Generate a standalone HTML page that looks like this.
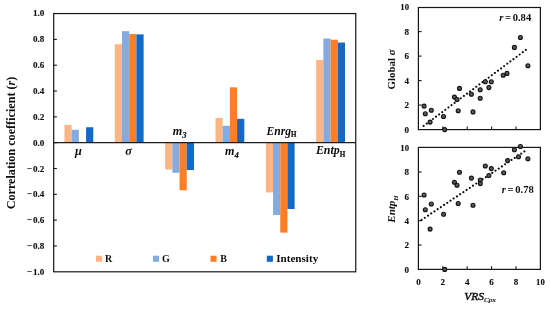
<!DOCTYPE html>
<html lang="en"><head><meta charset="utf-8"><title>Correlation chart</title>
<style>html,body{margin:0;padding:0;background:#fff}svg{display:block}text{font-family:"Liberation Serif",serif;fill:#0c0c0c;stroke:#0c0c0c;stroke-width:0.1px}.b{font-weight:bold}.i{font-style:italic}.n{font-style:normal}.t{stroke-width:0.1px}.c{stroke:none}.v{stroke-width:0.4px}</style></head><body>
<svg width="550" height="309" viewBox="0 0 550 309">
<rect width="550" height="309" fill="#fff"/>
<rect x="64.47" y="124.91" width="7.20" height="17.69" fill="#FDB584"/>
<rect x="71.67" y="129.82" width="7.20" height="12.78" fill="#84ABE0"/>
<rect x="86.07" y="127.23" width="7.20" height="15.37" fill="#1169C8"/>
<rect x="114.81" y="44.21" width="7.20" height="98.39" fill="#FDB584"/>
<rect x="122.01" y="31.17" width="7.20" height="111.43" fill="#84ABE0"/>
<rect x="129.21" y="34.07" width="7.20" height="108.53" fill="#FD7F25"/>
<rect x="136.41" y="34.39" width="7.20" height="108.21" fill="#1169C8"/>
<rect x="165.15" y="142.60" width="7.20" height="26.86" fill="#FDB584"/>
<rect x="172.35" y="142.60" width="7.20" height="30.22" fill="#84ABE0"/>
<rect x="179.55" y="142.60" width="7.20" height="47.65" fill="#FD7F25"/>
<rect x="186.75" y="142.60" width="7.20" height="27.50" fill="#1169C8"/>
<rect x="215.50" y="117.94" width="7.20" height="24.66" fill="#FDB584"/>
<rect x="222.70" y="125.81" width="7.20" height="16.79" fill="#84ABE0"/>
<rect x="229.90" y="87.33" width="7.20" height="55.27" fill="#FD7F25"/>
<rect x="237.10" y="118.84" width="7.20" height="23.76" fill="#1169C8"/>
<rect x="265.84" y="142.60" width="7.20" height="49.84" fill="#FDB584"/>
<rect x="273.04" y="142.60" width="7.20" height="72.44" fill="#84ABE0"/>
<rect x="280.24" y="142.60" width="7.20" height="90.00" fill="#FD7F25"/>
<rect x="287.44" y="142.60" width="7.20" height="66.37" fill="#1169C8"/>
<rect x="316.18" y="59.96" width="7.20" height="82.64" fill="#FDB584"/>
<rect x="323.38" y="38.53" width="7.20" height="104.07" fill="#84ABE0"/>
<rect x="330.58" y="39.69" width="7.20" height="102.91" fill="#FD7F25"/>
<rect x="337.78" y="42.53" width="7.20" height="100.07" fill="#1169C8"/>
<rect x="53.7" y="13.55" width="302.05" height="258.25" fill="none" stroke="#161616" stroke-width="1.2"/>
<line x1="53.7" y1="142.60" x2="355.75" y2="142.60" stroke="#1c1c1c" stroke-width="1.4"/>
<text class="b" transform="translate(44.40,16.35) scale(0.99,1)" font-size="9.2" text-anchor="end">1.0</text>
<line x1="53.7" y1="39.38" x2="56.900000000000006" y2="39.38" stroke="#161616" stroke-width="1.1"/>
<text class="b" transform="translate(44.40,42.21) scale(0.99,1)" font-size="9.2" text-anchor="end">0.8</text>
<line x1="53.7" y1="65.20" x2="56.900000000000006" y2="65.20" stroke="#161616" stroke-width="1.1"/>
<text class="b" transform="translate(44.40,68.07) scale(0.99,1)" font-size="9.2" text-anchor="end">0.6</text>
<line x1="53.7" y1="91.02" x2="56.900000000000006" y2="91.02" stroke="#161616" stroke-width="1.1"/>
<text class="b" transform="translate(44.40,93.93) scale(0.99,1)" font-size="9.2" text-anchor="end">0.4</text>
<line x1="53.7" y1="116.85" x2="56.900000000000006" y2="116.85" stroke="#161616" stroke-width="1.1"/>
<text class="b" transform="translate(44.40,119.79) scale(0.99,1)" font-size="9.2" text-anchor="end">0.2</text>
<line x1="53.7" y1="142.68" x2="56.900000000000006" y2="142.68" stroke="#161616" stroke-width="1.1"/>
<text class="b" transform="translate(44.40,145.65) scale(0.99,1)" font-size="9.2" text-anchor="end">0.0</text>
<line x1="53.7" y1="168.50" x2="56.900000000000006" y2="168.50" stroke="#161616" stroke-width="1.1"/>
<text class="b" transform="translate(44.40,171.51) scale(0.99,1)" font-size="9.2" text-anchor="end"><tspan letter-spacing="1.1">−</tspan>0.2</text>
<line x1="53.7" y1="194.33" x2="56.900000000000006" y2="194.33" stroke="#161616" stroke-width="1.1"/>
<text class="b" transform="translate(44.40,197.37) scale(0.99,1)" font-size="9.2" text-anchor="end"><tspan letter-spacing="1.1">−</tspan>0.4</text>
<line x1="53.7" y1="220.15" x2="56.900000000000006" y2="220.15" stroke="#161616" stroke-width="1.1"/>
<text class="b" transform="translate(44.40,223.23) scale(0.99,1)" font-size="9.2" text-anchor="end"><tspan letter-spacing="1.1">−</tspan>0.6</text>
<line x1="53.7" y1="245.98" x2="56.900000000000006" y2="245.98" stroke="#161616" stroke-width="1.1"/>
<text class="b" transform="translate(44.40,249.09) scale(0.99,1)" font-size="9.2" text-anchor="end"><tspan letter-spacing="1.1">−</tspan>0.8</text>
<text class="b" transform="translate(44.40,274.95) scale(0.99,1)" font-size="9.2" text-anchor="end"><tspan letter-spacing="1.1">−</tspan>1.0</text>
<text class="b c" transform="translate(15.40,143.00) rotate(-90) scale(0.98,1)" font-size="12.4" text-anchor="middle">Correlation coefficient (<tspan class="i">r</tspan>)</text>
<text class="b i c" transform="translate(78.30,155.10) scale(0.96,1)" font-size="12.8" text-anchor="middle">μ</text>
<text class="b i c" transform="translate(128.50,155.00) scale(0.96,1)" font-size="12.8" text-anchor="middle">σ</text>
<text class="b i c" transform="translate(179.70,134.80) scale(1.03,1)" font-size="11.8" text-anchor="middle">m<tspan dy="3.4" font-size="8.4" stroke="#0c0c0c" stroke-width="0.15">3</tspan></text>
<text class="b i c" transform="translate(232.00,154.50) scale(1.03,1)" font-size="11.8" text-anchor="middle">m<tspan dy="3.4" font-size="8.4" stroke="#0c0c0c" stroke-width="0.15">4</tspan></text>
<text class="b i c" transform="translate(281.50,134.50) scale(0.91,1)" font-size="12.8" text-anchor="middle">Enrg<tspan dy="2.6" font-size="7.7" class="n" stroke="#0c0c0c" stroke-width="0.25">H</tspan></text>
<text class="b i c" transform="translate(330.60,154.20) scale(0.93,1)" font-size="12.8" text-anchor="middle">Entp<tspan dy="3.2" font-size="7.7" class="n" stroke="#0c0c0c" stroke-width="0.25">H</tspan></text>
<rect x="96" y="255.7" width="6.1" height="6.1" fill="#FDB584"/>
<text class="b c" transform="translate(105.00,261.80) scale(0.93,1)" font-size="10.8" text-anchor="start">R</text>
<rect x="153" y="255.7" width="6.1" height="6.1" fill="#84ABE0"/>
<text class="b c" transform="translate(162.00,261.80) scale(0.93,1)" font-size="10.8" text-anchor="start">G</text>
<rect x="210.5" y="255.7" width="6.1" height="6.1" fill="#FD7F25"/>
<text class="b c" transform="translate(220.20,261.80) scale(0.93,1)" font-size="10.8" text-anchor="start">B</text>
<rect x="266.8" y="255.7" width="6.1" height="6.1" fill="#1169C8"/>
<text class="b c" transform="translate(276.20,261.80) scale(1.03,1)" font-size="10.8" text-anchor="start">Intensity</text>
<rect x="418.4" y="7.5" width="122.00" height="122.10" fill="none" stroke="#161616" stroke-width="1.2"/>
<text class="b" transform="translate(409.00,10.30) scale(0.95,1)" font-size="9.2" text-anchor="end">10</text>
<line x1="418.4" y1="31.60" x2="421.59999999999997" y2="31.60" stroke="#161616" stroke-width="1.1"/>
<text class="b" transform="translate(409.00,34.80) scale(0.99,1)" font-size="9.2" text-anchor="end">8</text>
<line x1="418.4" y1="56.10" x2="421.59999999999997" y2="56.10" stroke="#161616" stroke-width="1.1"/>
<text class="b" transform="translate(409.00,59.30) scale(0.99,1)" font-size="9.2" text-anchor="end">6</text>
<line x1="418.4" y1="80.60" x2="421.59999999999997" y2="80.60" stroke="#161616" stroke-width="1.1"/>
<text class="b" transform="translate(409.00,83.80) scale(0.99,1)" font-size="9.2" text-anchor="end">4</text>
<line x1="418.4" y1="105.10" x2="421.59999999999997" y2="105.10" stroke="#161616" stroke-width="1.1"/>
<text class="b" transform="translate(409.00,108.30) scale(0.99,1)" font-size="9.2" text-anchor="end">2</text>
<text class="b" transform="translate(409.00,132.80) scale(0.99,1)" font-size="9.2" text-anchor="end">0</text>
<line x1="442.80" y1="129.6" x2="442.80" y2="126.39999999999999" stroke="#161616" stroke-width="1.1"/>
<line x1="467.20" y1="129.6" x2="467.20" y2="126.39999999999999" stroke="#161616" stroke-width="1.1"/>
<line x1="491.60" y1="129.6" x2="491.60" y2="126.39999999999999" stroke="#161616" stroke-width="1.1"/>
<line x1="516.00" y1="129.6" x2="516.00" y2="126.39999999999999" stroke="#161616" stroke-width="1.1"/>
<line x1="423.6" y1="125.9" x2="526.5" y2="49.4" stroke="#0a0a0a" stroke-width="2.1" stroke-linecap="round" stroke-dasharray="0.01 3.85"/>
<circle cx="424.1" cy="106.1" r="2.0" fill="#5a5a5a" stroke="#101010" stroke-width="1.1"/>
<circle cx="425.3" cy="113.8" r="2.0" fill="#5a5a5a" stroke="#101010" stroke-width="1.1"/>
<circle cx="431.3" cy="110.2" r="2.0" fill="#5a5a5a" stroke="#101010" stroke-width="1.1"/>
<circle cx="430.1" cy="122.1" r="2.0" fill="#5a5a5a" stroke="#101010" stroke-width="1.1"/>
<circle cx="443.5" cy="116.5" r="2.0" fill="#5a5a5a" stroke="#101010" stroke-width="1.1"/>
<circle cx="444.7" cy="129.6" r="2.0" fill="#5a5a5a" stroke="#101010" stroke-width="1.1"/>
<circle cx="454.4" cy="97.1" r="2.0" fill="#5a5a5a" stroke="#101010" stroke-width="1.1"/>
<circle cx="457" cy="99.5" r="2.0" fill="#5a5a5a" stroke="#101010" stroke-width="1.1"/>
<circle cx="459.5" cy="88.4" r="2.0" fill="#5a5a5a" stroke="#101010" stroke-width="1.1"/>
<circle cx="458.2" cy="110.7" r="2.0" fill="#5a5a5a" stroke="#101010" stroke-width="1.1"/>
<circle cx="471.4" cy="94.3" r="2.0" fill="#5a5a5a" stroke="#101010" stroke-width="1.1"/>
<circle cx="473" cy="111.9" r="2.0" fill="#5a5a5a" stroke="#101010" stroke-width="1.1"/>
<circle cx="480.2" cy="89.8" r="2.0" fill="#5a5a5a" stroke="#101010" stroke-width="1.1"/>
<circle cx="480.2" cy="98.3" r="2.0" fill="#5a5a5a" stroke="#101010" stroke-width="1.1"/>
<circle cx="485.3" cy="81.7" r="2.0" fill="#5a5a5a" stroke="#101010" stroke-width="1.1"/>
<circle cx="488.9" cy="87.6" r="2.0" fill="#5a5a5a" stroke="#101010" stroke-width="1.1"/>
<circle cx="491.3" cy="81.8" r="2.0" fill="#5a5a5a" stroke="#101010" stroke-width="1.1"/>
<circle cx="503.2" cy="75.3" r="2.0" fill="#5a5a5a" stroke="#101010" stroke-width="1.1"/>
<circle cx="507" cy="73.4" r="2.0" fill="#5a5a5a" stroke="#101010" stroke-width="1.1"/>
<circle cx="514.4" cy="47.4" r="2.0" fill="#5a5a5a" stroke="#101010" stroke-width="1.1"/>
<circle cx="520.4" cy="37.5" r="2.0" fill="#5a5a5a" stroke="#101010" stroke-width="1.1"/>
<circle cx="527.9" cy="65.7" r="2.0" fill="#5a5a5a" stroke="#101010" stroke-width="1.1"/>
<text class="b c" transform="translate(499.20,21.20) scale(1.02,1)" font-size="10.4" text-anchor="start"><tspan word-spacing="-1" class="i">r</tspan><tspan word-spacing="-1"> = 0.84</tspan></text>
<rect x="418.4" y="147.4" width="122.00" height="122.00" fill="none" stroke="#161616" stroke-width="1.2"/>
<text class="b" transform="translate(409.00,150.80) scale(0.95,1)" font-size="9.2" text-anchor="end">10</text>
<line x1="418.4" y1="171.96" x2="421.59999999999997" y2="171.96" stroke="#161616" stroke-width="1.1"/>
<text class="b" transform="translate(409.00,175.16) scale(0.99,1)" font-size="9.2" text-anchor="end">8</text>
<line x1="418.4" y1="196.32" x2="421.59999999999997" y2="196.32" stroke="#161616" stroke-width="1.1"/>
<text class="b" transform="translate(409.00,199.52) scale(0.99,1)" font-size="9.2" text-anchor="end">6</text>
<line x1="418.4" y1="220.68" x2="421.59999999999997" y2="220.68" stroke="#161616" stroke-width="1.1"/>
<text class="b" transform="translate(409.00,223.88) scale(0.99,1)" font-size="9.2" text-anchor="end">4</text>
<line x1="418.4" y1="245.04" x2="421.59999999999997" y2="245.04" stroke="#161616" stroke-width="1.1"/>
<text class="b" transform="translate(409.00,248.24) scale(0.99,1)" font-size="9.2" text-anchor="end">2</text>
<text class="b" transform="translate(409.00,272.60) scale(0.99,1)" font-size="9.2" text-anchor="end">0</text>
<line x1="442.80" y1="269.4" x2="442.80" y2="266.2" stroke="#161616" stroke-width="1.1"/>
<line x1="467.20" y1="269.4" x2="467.20" y2="266.2" stroke="#161616" stroke-width="1.1"/>
<line x1="491.60" y1="269.4" x2="491.60" y2="266.2" stroke="#161616" stroke-width="1.1"/>
<line x1="516.00" y1="269.4" x2="516.00" y2="266.2" stroke="#161616" stroke-width="1.1"/>
<line x1="421.6" y1="219.9" x2="526.2" y2="150.2" stroke="#0a0a0a" stroke-width="2.1" stroke-linecap="round" stroke-dasharray="0.01 3.85"/>
<circle cx="424.1" cy="195" r="2.0" fill="#5a5a5a" stroke="#101010" stroke-width="1.1"/>
<circle cx="425.3" cy="209.8" r="2.0" fill="#5a5a5a" stroke="#101010" stroke-width="1.1"/>
<circle cx="431.3" cy="204" r="2.0" fill="#5a5a5a" stroke="#101010" stroke-width="1.1"/>
<circle cx="430.1" cy="229.1" r="2.0" fill="#5a5a5a" stroke="#101010" stroke-width="1.1"/>
<circle cx="443.6" cy="214.2" r="2.0" fill="#5a5a5a" stroke="#101010" stroke-width="1.1"/>
<circle cx="444.7" cy="269.4" r="2.0" fill="#5a5a5a" stroke="#101010" stroke-width="1.1"/>
<circle cx="454.4" cy="182.2" r="2.0" fill="#5a5a5a" stroke="#101010" stroke-width="1.1"/>
<circle cx="457" cy="185.3" r="2.0" fill="#5a5a5a" stroke="#101010" stroke-width="1.1"/>
<circle cx="459.5" cy="172.2" r="2.0" fill="#5a5a5a" stroke="#101010" stroke-width="1.1"/>
<circle cx="458.2" cy="203.5" r="2.0" fill="#5a5a5a" stroke="#101010" stroke-width="1.1"/>
<circle cx="471.4" cy="178.1" r="2.0" fill="#5a5a5a" stroke="#101010" stroke-width="1.1"/>
<circle cx="473" cy="205.2" r="2.0" fill="#5a5a5a" stroke="#101010" stroke-width="1.1"/>
<circle cx="480.3" cy="180" r="2.0" fill="#5a5a5a" stroke="#101010" stroke-width="1.1"/>
<circle cx="480.3" cy="183.6" r="2.0" fill="#5a5a5a" stroke="#101010" stroke-width="1.1"/>
<circle cx="485.3" cy="166.0" r="2.0" fill="#5a5a5a" stroke="#101010" stroke-width="1.1"/>
<circle cx="488.9" cy="175.5" r="2.0" fill="#5a5a5a" stroke="#101010" stroke-width="1.1"/>
<circle cx="491.3" cy="168.6" r="2.0" fill="#5a5a5a" stroke="#101010" stroke-width="1.1"/>
<circle cx="503.7" cy="172.7" r="2.0" fill="#5a5a5a" stroke="#101010" stroke-width="1.1"/>
<circle cx="507.6" cy="160.6" r="2.0" fill="#5a5a5a" stroke="#101010" stroke-width="1.1"/>
<circle cx="514.4" cy="149.7" r="2.0" fill="#5a5a5a" stroke="#101010" stroke-width="1.1"/>
<circle cx="520.4" cy="146.5" r="2.0" fill="#5a5a5a" stroke="#101010" stroke-width="1.1"/>
<circle cx="518.5" cy="156.7" r="2.0" fill="#5a5a5a" stroke="#101010" stroke-width="1.1"/>
<circle cx="527.9" cy="158.7" r="2.0" fill="#5a5a5a" stroke="#101010" stroke-width="1.1"/>
<text class="b c" transform="translate(501.80,192.60) scale(1.02,1)" font-size="10.4" text-anchor="start"><tspan word-spacing="-1" class="i">r</tspan><tspan word-spacing="-1"> = 0.78</tspan></text>
<text class="b" transform="translate(418.40,284.80) scale(0.99,1)" font-size="9.2" text-anchor="middle">0</text>
<text class="b" transform="translate(442.80,284.80) scale(0.99,1)" font-size="9.2" text-anchor="middle">2</text>
<text class="b" transform="translate(467.20,284.80) scale(0.99,1)" font-size="9.2" text-anchor="middle">4</text>
<text class="b" transform="translate(491.60,284.80) scale(0.99,1)" font-size="9.2" text-anchor="middle">6</text>
<text class="b" transform="translate(516.00,284.80) scale(0.99,1)" font-size="9.2" text-anchor="middle">8</text>
<text class="b" transform="translate(540.40,284.80) scale(0.95,1)" font-size="9.2" text-anchor="middle">10</text>
<text class="b c" transform="translate(394.80,69.40) rotate(-90) scale(1.01,1)" font-size="10.8" text-anchor="middle">Global <tspan class="i">σ</tspan></text>
<text class="b i c" transform="translate(394.80,209.00) rotate(-90) scale(1.04,1)" font-size="10.6" text-anchor="middle">Entp<tspan dy="2.9" font-size="6.6">H</tspan></text>
<text class="i v" transform="translate(464.30,299.60) scale(1.08,1)" font-size="10.6" text-anchor="start">VRS<tspan dy="2.6" font-size="6.8" stroke-width="0.2">Cpx</tspan></text>
</svg></body></html>
